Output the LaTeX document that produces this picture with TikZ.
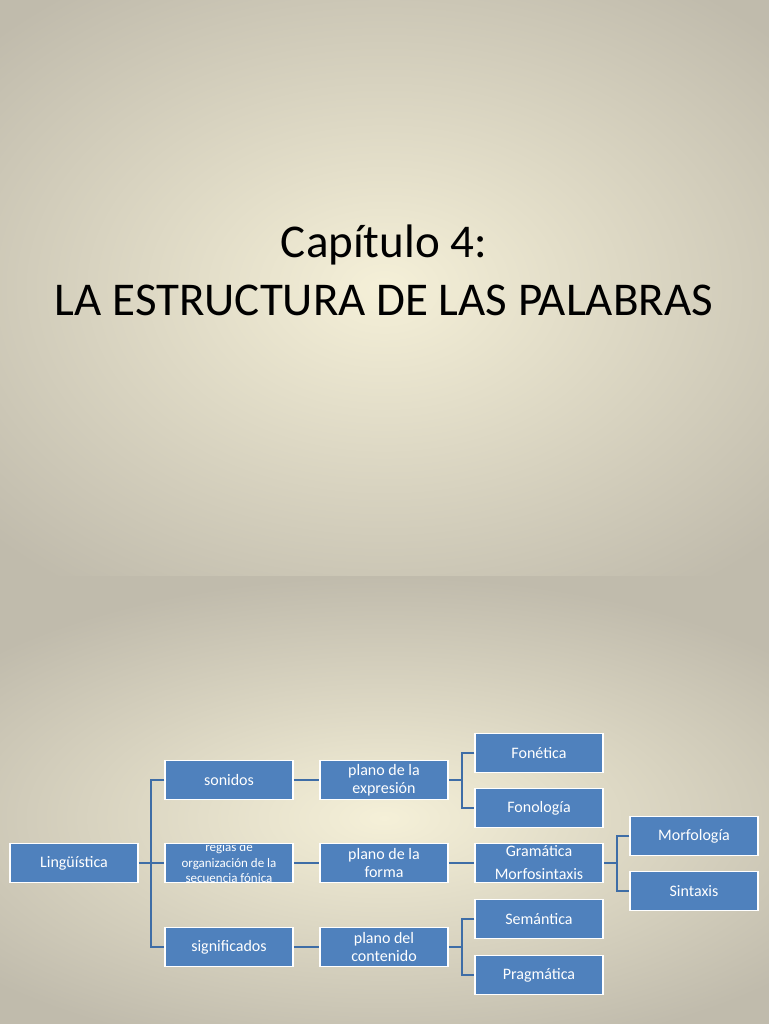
\documentclass[tikz,border=0pt]{standalone}
\usepackage{fontspec}
\setmainfont{Carlito}
\begin{document}
\begin{tikzpicture}[x=1pt,y=-1pt,
  bx/.style={draw=white,line width=1.5pt,fill=boxblue,minimum width=128pt,minimum height=39pt,inner sep=0pt,text=white,font=\fontsize{16}{18}\selectfont,align=center},
  cn/.style={draw=lineblue,line width=1.8pt}]
\definecolor{boxblue}{HTML}{4F81BD}
\definecolor{lineblue}{HTML}{3E6DA6}
\definecolor{bgin}{HTML}{F5F0D8}
\definecolor{bgout}{HTML}{C0BBAC}
\useasboundingbox (0,0) rectangle (768,1024);
\shade[inner color=bgin,outer color=bgout] (-150,-80) rectangle (918,656);
\shade[inner color=bgin,outer color=bgout] (-150,576) rectangle (918,1060);
\node[font=\fontsize{47}{58}\selectfont,align=center] (title) at (384,270) {Capítulo 4:\\LA ESTRUCTURA DE LAS PALABRAS};
\node[bx] (ling) at (74,863) {Lingüística};
\node[bx] (son) at (229,780) {sonidos};
\node[bx] (reg) at (229,863) {};
\node[bx] (sig) at (229,947) {significados};
\node[bx] (pe) at (384,780) {plano de la\\expresión};
\node[bx] (pf) at (384,863) {plano de la\\forma};
\node[bx] (pc) at (384,947) {plano del\\contenido};
\node[bx] (fon) at (539,753) {Fonética};
\node[bx] (fol) at (539,808) {Fonología};
\node[bx] (gra) at (539,863) {};
\node[bx] (sem) at (539,919) {Semántica};
\node[bx] (pra) at (539,975) {Pragmática};
\node[bx] (mor) at (694,836) {Morfología};
\node[bx] (sin) at (694,891) {Sintaxis};
\begin{scope}
\clip (166,845) rectangle (292,882);
\node[text=white,font=\fontsize{13}{15.5}\selectfont,align=center] (regt) at (229,863) {reglas de\\organización de la\\secuencia fónica};
\end{scope}
\begin{scope}
\clip (475,845) rectangle (602,882);
\node[text=white,font=\fontsize{16}{23}\selectfont,align=center] (grat) at (539,863) {Gramática\\Morfosintaxis};
\end{scope}
\coordinate (j1) at (151,863);
\draw[cn] (ling.east) -- (j1);
\draw[cn] (son.west) -| (j1) |- (sig.west);
\draw[cn] (j1) -- (reg.west);
\draw[cn] (son) -- (pe); \draw[cn] (reg) -- (pf); \draw[cn] (sig) -- (pc);
\draw[cn] (pf) -- (gra);
\draw[cn] (pe.east) -- ++(13,0) coordinate (j2);
\draw[cn] (fon.west) -| (j2) |- (fol.west);
\draw[cn] (pc.east) -- ++(13,0) coordinate (j3);
\draw[cn] (sem.west) -| (j3) |- (pra.west);
\draw[cn] (gra.east) -- ++(13,0) coordinate (j4);
\draw[cn] (mor.west) -| (j4) |- (sin.west);
\end{tikzpicture}
\end{document}
